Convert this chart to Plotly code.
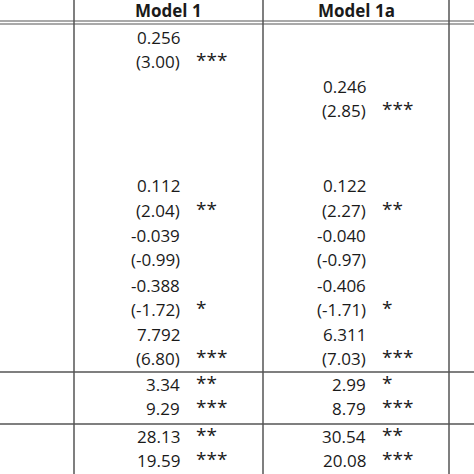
import plotly.graph_objects as go

headers = ['Model 1', 'Model 1a']
col1_vals = ['0.256', '(3.00)', '', '', '', '', '0.112', '(2.04)', '-0.039', '(-0.99)',
             '-0.388', '(-1.72)', '7.792', '(6.80)', '3.34', '9.29', '28.13', '19.59']
col1_stars = ['', '***', '', '', '', '', '', '**', '', '', '', '*', '', '***', '**', '***', '**', '***']
col2_vals = ['', '', '0.246', '(2.85)', '', '', '0.122', '(2.27)', '-0.040', '(-0.97)',
             '-0.406', '(-1.71)', '6.311', '(7.03)', '2.99', '8.79', '30.54', '20.08']
col2_stars = ['', '', '', '***', '', '', '', '**', '', '', '', '*', '', '***', '*', '***', '**', '***']

# layout (pixel positions)
row_y = [37, 61, 86, 110, 135, 160, 185, 210, 235, 259, 285, 309, 334, 358, 384, 408, 436, 460]
num_x = [182, 368]
star_x = [194, 380]
head_x = [168, 356]
font = dict(family='Open Sans, Lato, sans-serif', size=17, color='#1a1a1a')
star_font = dict(family='Open Sans, Lato, sans-serif', size=19, color='#1a1a1a')
line_c = '#555555'

fig = go.Figure()
ann = []
for hx, h in zip(head_x, headers):
    ann.append(dict(x=hx, y=10, text='<b>' + h + '</b>', showarrow=False,
                    xanchor='center', yanchor='middle', font=font))
for vals, stars, nx, sx in [(col1_vals, col1_stars, num_x[0], star_x[0]),
                            (col2_vals, col2_stars, num_x[1], star_x[1])]:
    for v, s, y in zip(vals, stars, row_y):
        if v:
            ann.append(dict(x=nx, y=y, text=v, showarrow=False,
                            xanchor='right', yanchor='middle', font=font))
        if s:
            ann.append(dict(x=sx, y=y - 1, text=s, showarrow=False,
                            xanchor='left', yanchor='middle', font=star_font))

shapes = []
for x in [74, 263, 449]:
    shapes.append(dict(type='line', x0=x, x1=x, y0=0, y1=474, line=dict(color=line_c, width=1.5)))
for y in [21, 24]:
    shapes.append(dict(type='line', x0=0, x1=474, y0=y, y1=y, line=dict(color=line_c, width=1.2)))
for y in [372, 424]:
    shapes.append(dict(type='line', x0=0, x1=474, y0=y, y1=y, line=dict(color=line_c, width=1.5)))

fig.update_layout(
    width=474, height=474,
    margin=dict(l=0, r=0, t=0, b=0),
    paper_bgcolor='white', plot_bgcolor='white',
    xaxis=dict(range=[0, 474], visible=False, fixedrange=True),
    yaxis=dict(range=[474, 0], visible=False, fixedrange=True),
    annotations=ann, shapes=shapes, showlegend=False,
)
fig.write_html('out.html', config=dict(displayModeBar=False),
               post_script="document.body.style.margin='0';document.body.style.overflow='hidden';")
